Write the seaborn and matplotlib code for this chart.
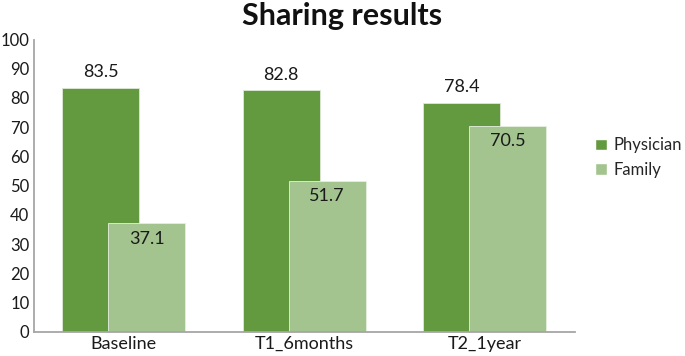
import matplotlib
matplotlib.use("Agg")
import matplotlib.pyplot as plt
import seaborn as sns
import pandas as pd
from matplotlib.patches import Patch

categories = ["Baseline", "T1_6months", "T2_1year"]
physician = [83.5, 82.8, 78.4]
family = [37.1, 51.7, 70.5]
series_names = ["Physician", "Family"]
yticks = [0, 10, 20, 30, 40, 50, 60, 70, 80, 90, 100]

dark = "#639a40"
light = "#a3c48f"

sns.set_theme(style="white")
plt.rcParams["font.family"] = ["Lato", "DejaVu Sans"]

fig = plt.figure(figsize=(6.85, 3.56), dpi=100)
ax = fig.add_axes([0.049, 0.068, 0.79, 0.821])

width = 0.427
shift = 0.127
df_p = pd.DataFrame({"cat": categories, "val": physician})
df_f = pd.DataFrame({"cat": categories, "val": family})

sns.barplot(data=df_p, x="cat", y="val", color=dark, width=width,
            saturation=1, ax=ax, edgecolor="#dfe9d6", linewidth=0.6)
n_p = len(ax.patches)
for p in ax.patches[:n_p]:
    p.set_x(p.get_x() - shift)
sns.barplot(data=df_f, x="cat", y="val", color=light, width=width,
            saturation=1, ax=ax, edgecolor="#e6efe0", linewidth=0.6)
for p in ax.patches[n_p:]:
    p.set_x(p.get_x() + shift)

for p, v in zip(ax.patches[:n_p], physician):
    ax.annotate(f"{v}", (p.get_x() + p.get_width() / 2, v), xytext=(0, 11),
                textcoords="offset points", ha="center", va="center",
                fontsize=13, color="#1a1a1a")
for p, v in zip(ax.patches[n_p:], family):
    ax.annotate(f"{v}", (p.get_x() + p.get_width() / 2, v), xytext=(0, -11),
                textcoords="offset points", ha="center", va="center",
                fontsize=13, color="#1a1a1a")

ax.set_xlim(-0.5, 2.5)
ax.set_ylim(0, 100)
ax.set_yticks(yticks)
ax.set_yticklabels([str(t) for t in yticks], fontsize=12, color="#1a1a1a")
ax.tick_params(axis="x", labelsize=13, colors="#1a1a1a", length=0, pad=3)
ax.tick_params(axis="y", length=0, pad=3)
for lab in ax.get_xticklabels():
    lab.set_color("#1a1a1a")
ax.set_xlabel("")
ax.set_ylabel("")
for s in ["top", "right"]:
    ax.spines[s].set_visible(False)
for s in ["left", "bottom"]:
    ax.spines[s].set_color("#a6a6a6")
    ax.spines[s].set_linewidth(1.3)

fig.suptitle("Sharing results", x=0.5, y=0.995, fontsize=22,
             fontweight="bold", color="#111111")

handles = [Patch(facecolor=dark, label=series_names[0]),
           Patch(facecolor=light, label=series_names[1])]
fig.legend(handles=handles, loc="center left", bbox_to_anchor=(0.857, 0.558),
           frameon=False, fontsize=12, handlelength=0.7, handleheight=0.7,
           handletextpad=0.4, labelspacing=0.5, borderpad=0)

fig.savefig("out.png", dpi=100)
